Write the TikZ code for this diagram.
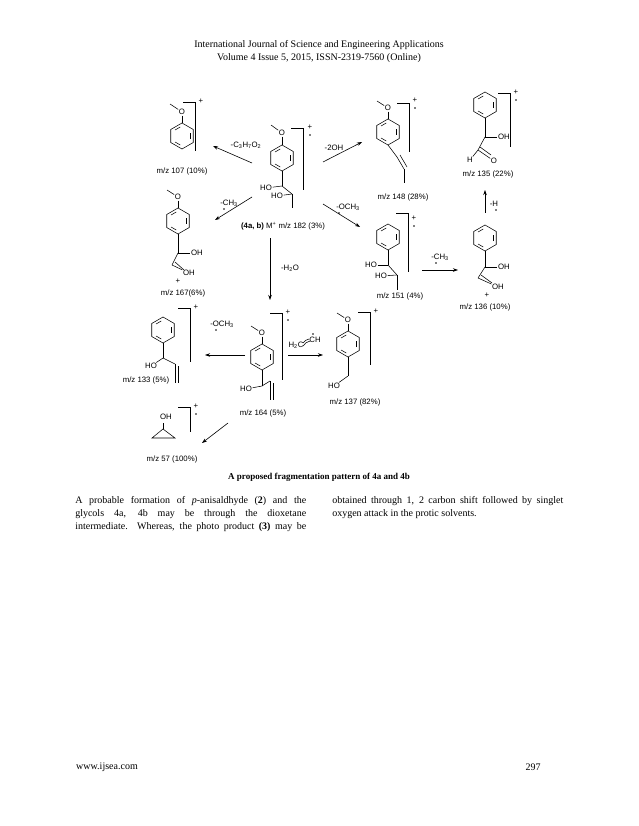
\documentclass[tikz,border=0pt]{standalone}
\usepackage{fontspec}
\setmainfont{Liberation Serif}
\newfontfamily\chemf{Liberation Sans}
\usetikzlibrary{arrows.meta}
\newcommand{\sub}[1]{\textsubscript{#1}}
\begin{document}
\begin{tikzpicture}[x=1pt,y=-1pt,line width=0.55pt,
  lab/.style={font=\chemf\fontsize{7.8}{8}\selectfont,inner sep=0.5pt},
  arr/.style={-{Stealth[length=5pt,width=3.5pt]},line width=0.6pt},
  pics/ring/.style={code={
    \draw (90:13)--(30:13)--(-30:13)--(-90:13)--(-150:13)--(150:13)--cycle;
    \draw[shorten <=2pt,shorten >=2pt] (30:10)--(-30:10);
    \draw[shorten <=2pt,shorten >=2pt] (-90:10)--(-150:10);
    \draw[shorten <=2pt,shorten >=2pt] (150:10)--(90:10);
  }}]
\useasboundingbox (0,0) rectangle (638,826);
\newcommand{\brk}[3]{\draw (#1-12,#2)--(#1,#2)--(#1,#3);}
\newcommand{\rad}[2]{\node[lab] at (#1,#2) {+}; \fill (#1,#2+8) circle (0.8);}
% header
\node[font=\fontsize{10}{11}\selectfont] (h1) at (319,45) {International Journal of Science and Engineering Applications};
\node[font=\fontsize{10}{11}\selectfont] (h2) at (319,58) {Volume 4 Issue 5, 2015, ISSN-2319-7560 (Online)};
% m/z 107
\pic at (182,136) {ring};
\node[lab] (o107) at (182,112) {O};
\draw (170,104)--(o107); \draw (o107)--(182,123);
\brk{195}{102}{151}
\node[lab] at (201,101) {+};
\node[lab] (l107) at (182,171) {m/z 107 (10\%)};
% central M+ 182
\node[lab] (o182) at (282,133) {O};
\draw (271,125)--(o182); \draw (o182)--(282,145);
\pic at (282,158) {ring};
\draw (282,171)--(282,186);
\node[lab] (ho1) at (266,188) {HO}; \draw (ho1)--(282,186);
\draw (282,186)--(292,194);
\node[lab] (ho2) at (277,196) {HO}; \draw (ho2)--(292,194);
\draw (292,194)--(292,208);
\brk{303}{128}{190}
\rad{310}{127}
\node[lab] (l182) at (283,226) {\textbf{(4a, b)} M\textsuperscript{+} m/z 182 (3\%)};
% arrows from centre
\coordinate (a1s) at (252,163); \coordinate (a1e) at (213,146);
\draw[arr] (a1s)--(a1e);
\node[lab] at (246,145) {-C\sub{3}H\sub{7}O\sub{2}};
\coordinate (a2s) at (323,162); \coordinate (a2e) at (362,142);
\draw[arr] (a2s)--(a2e);
\node[lab] at (334,148) {-2OH};
\coordinate (a3s) at (252,197); \coordinate (a3e) at (215,220);
\draw[arr] (a3s)--(a3e);
\node[lab] at (229,203) {-CH\sub{3}}; \fill (224,209) circle (0.8);
\coordinate (a4s) at (323,204); \coordinate (a4e) at (360,227);
\draw[arr] (a4s)--(a4e);
\node[lab] at (348,207) {-OCH\sub{3}}; \fill (339,213) circle (0.8);
\coordinate (a5s) at (270,238); \coordinate (a5e) at (270,300);
\draw[arr] (a5s)--(a5e);
\node[lab] at (290,268) {-H\sub{2}O};
% m/z 148
\node[lab] (o148) at (388,108) {O};
\draw (377,101)--(o148); \draw (o148)--(388,119);
\pic at (388,132) {ring};
\draw (388,145)--(397,157);
\draw (397,157)--(404,169); \draw (400,155)--(407,167);
\draw (404,169)--(404,183);
\brk{409}{103}{152}
\rad{415}{100}
\node[lab] (l148) at (403,197) {m/z 148 (28\%)};
% m/z 135
\pic at (485,105) {ring};
\draw (485,118)--(485,137);
\node[lab] (oh135) at (504,137) {OH}; \draw (485,137)--(oh135);
\draw (485,137)--(478,150);
\node[lab] (h135) at (470,160) {H}; \draw (478,150)--(h135);
\node[lab] (ox135) at (494,161) {O}; \draw (478,150)--(ox135); \draw (480,147)--(491,155);
\brk{510}{93}{147}
\rad{516}{92}
\node[lab] (l135) at (488,174) {m/z 135 (22\%)};
% -H arrow
\coordinate (a6s) at (485,213); \coordinate (a6e) at (485,190);
\draw[arr] (a6s)--(a6e);
\node[lab] at (494,204) {-H}; \fill (496,210) circle (0.8);
% m/z 136
\pic at (485,238) {ring};
\draw (485,251)--(485,267);
\node[lab] (oh136) at (504,267) {OH}; \draw (485,267)--(oh136);
\draw (485,267)--(478,278);
\node[lab] (ox136) at (498,287) {OH}; \draw (478,278)--(ox136); \draw (481,275)--(492,283);
\node[lab] at (487,295) {+};
\node[lab] (l136) at (485,307) {m/z 136 (10\%)};
% 151 -> 136
\coordinate (a7s) at (422,270); \coordinate (a7e) at (458,270);
\draw[arr] (a7s)--(a7e);
\node[lab] at (440,257) {-CH\sub{3}}; \fill (436,263) circle (0.8);
% m/z 151
\pic at (388,237) {ring};
\draw (388,250)--(388,265);
\node[lab] (ho3) at (371,265) {HO}; \draw (ho3)--(388,265);
\draw (388,265)--(397,275);
\node[lab] (ho4) at (381,276) {HO}; \draw (ho4)--(397,275);
\draw (397,275)--(397,290);
\brk{408}{213}{272}
\rad{414}{218}
\node[lab] (l151) at (400,296) {m/z 151 (4\%)};
% m/z 167
\node[lab] (o167) at (178,197) {O};
\draw (167,190)--(o167); \draw (o167)--(178,208);
\pic at (178,221) {ring};
\draw (178,234)--(178,253);
\node[lab] (oh167) at (197,253) {OH}; \draw (178,253)--(oh167);
\draw (178,253)--(172,265);
\node[lab] (ox167) at (189,273) {OH}; \draw (172,265)--(ox167); \draw (175,262)--(184,270);
\node[lab] at (178,281) {+};
\node[lab] (l167) at (183,293) {m/z 167(6\%)};
% m/z 164
\node[lab] (o164) at (262,333) {O};
\draw (251,326)--(o164); \draw (o164)--(262,344);
\pic at (262,357) {ring};
\draw (262,370)--(262,386);
\node[lab] (ho5) at (246,389) {HO}; \draw (ho5)--(262,386);
\draw (262,386)--(270,381);
\draw (270,381)--(270,400); \draw (273,383)--(273,400);
\brk{282}{313}{380}
\rad{288}{312}
\node[lab] (l164) at (263,413) {m/z 164 (5\%)};
% arrows from 164
\coordinate (a8s) at (245,355); \coordinate (a8e) at (205,355);
\draw[arr] (a8s)--(a8e);
\node[lab] at (222,324) {-OCH\sub{3}}; \fill (216,330) circle (0.8);
\coordinate (a9s) at (288,355); \coordinate (a9e) at (323,355);
\draw[arr] (a9s)--(a9e);
\node[lab] at (296,345) {H\sub{2}C};
\draw (303,343) to[bend left=20] (309,339); \draw (303,346) to[bend left=20] (310,341);
\node[lab] at (315,340) {CH}; \fill (313,334) circle (0.8);
\coordinate (a10s) at (228,423); \coordinate (a10e) at (202,443);
\draw[arr] (a10s)--(a10e);
% m/z 133
\pic at (163,330) {ring};
\draw (163,343)--(163,358);
\node[lab] (ho6) at (151,366) {HO}; \draw (ho6)--(163,358);
\draw (163,358)--(175,364);
\draw (175,364)--(175,383); \draw (178,366)--(178,383);
\brk{190}{308}{362}
\node[lab] at (196,307) {+};
\node[lab] (l133) at (146,380) {m/z 133 (5\%)};
% m/z 137
\node[lab] (o137) at (348,320) {O};
\draw (337,313)--(o137); \draw (o137)--(348,331);
\pic at (348,344) {ring};
\draw (348,357)--(348,376);
\node[lab] (ho7) at (334,386) {HO}; \draw (ho7)--(348,376);
\brk{370}{312}{365}
\node[lab] at (376,311) {+};
\node[lab] (l137) at (355,402) {m/z 137 (82\%)};
% m/z 57
\node[lab] (oh57) at (166,417) {OH};
\draw (163,423)--(163,429);
\draw (163,429)--(152,438)--(175,438)--cycle;
\brk{190}{407}{432}
\rad{196}{406}
\node[lab] (l57) at (172,459) {m/z 57 (100\%)};
% caption
\node[font=\bfseries\fontsize{9}{10}\selectfont] (cap) at (319,477) {A proposed fragmentation pattern of 4a and 4b};
% body text
\begin{scope}[every node/.style={font=\fontsize{10}{11}\selectfont,inner sep=0pt,anchor=west}]
\node (b1) at (75,501) {\makebox[231pt][s]{A probable formation of \textit{p}-anisaldhyde (\textbf{2}) and the}};
\node (b2) at (75,514) {\makebox[231pt][s]{glycols 4a, 4b may be through the dioxetane}};
\node (b3) at (75,527) {\makebox[231pt][s]{intermediate. Whereas, the photo product \textbf{(3)} may be}};
\node (b4) at (332,501) {\makebox[231pt][s]{obtained through 1, 2 carbon shift followed by singlet}};
\node (b5) at (332,514) {oxygen attack in the protic solvents.};
\end{scope}
% footer
\node[font=\fontsize{10}{11}\selectfont] (f1) at (107,767) {www.ijsea.com};
\node[font=\fontsize{10}{11}\selectfont] (f2) at (533,767) {297};
\end{tikzpicture}
\end{document}
